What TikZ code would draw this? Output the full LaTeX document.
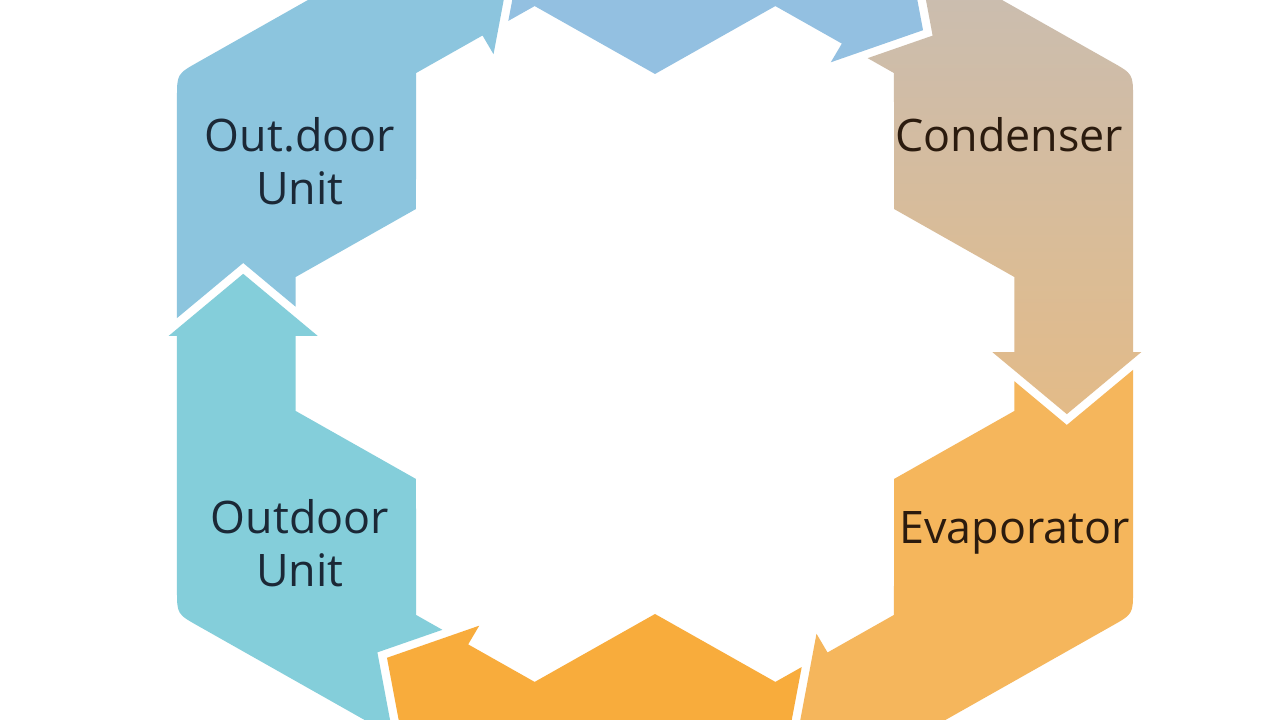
\documentclass[tikz,border=0pt]{standalone}
\usepackage{fontspec}
\setmainfont{Open Sans}
\usepackage{xcolor}
\usepackage{tikz}
\definecolor{outdoorblue}{HTML}{8CC5DE}
\definecolor{topblue}{HTML}{93C0E1}
\definecolor{condtop}{HTML}{C8BDB3}
\definecolor{condbot}{HTML}{E3BB88}
\definecolor{evaporange}{HTML}{F5B65C}
\definecolor{botorange}{HTML}{F8AC3C}
\definecolor{outdoorteal}{HTML}{84CEDA}
\definecolor{inkblue}{HTML}{1B2836}
\definecolor{inkbrown}{HTML}{2B1B0E}
\tikzset{
	partA/.style={fill=outdoorblue},
	partT/.style={fill=topblue},
	partC/.style={top color=condtop, bottom color=condbot},
	partE/.style={fill=evaporange},
	partB/.style={fill=botorange},
	partL/.style={fill=outdoorteal},
	unittext/.style={inner sep=0pt, align=center, font=\fontsize{12.75}{15}\selectfont}
}

\begin{document}
\begin{tikzpicture}
	\useasboundingbox (0,0) rectangle (12.8,7.2);
	\fill[white] (0,0) rectangle (12.8,7.2);
	\clip (0,0) rectangle (12.8,7.2);
	% six bent blocks round the hexagon, each with its arrow into the next one
	\begin{scope}[shift={(6.55,3.76)}, xscale=5.52, yscale=5.40]
		\foreach \a/\part in {150/partA, 90/partT, 30/partC, -30/partE, -90/partB, 210/partL}
			\path[\part] (\a+26.83:0.8674) -- (\a+2.28:0.9783) .. controls (\a:1) .. (\a-2.28:0.9783)
				-- (\a-30.99:0.8662) -- (\a-30.97:0.8812) -- (\a-39.88:0.7573) -- (\a-31.40:0.6112)
				-- (\a-31.32:0.6512) -- (\a-19.21:0.6627) -- (\a:0.5) -- (\a+19.21:0.6627)
				-- (\a+23.95:0.6547) -- (\a+18.63:0.7610) -- cycle;
	\end{scope}
	\node[unittext, text=inkblue] (outdoorTop) at (3.00,5.585) {Out.door\\Unit};
	\node[unittext, text=inkbrown] (condenser) at (10.09,5.85) {Condenser};
	\node[unittext, text=inkbrown] (evaporator) at (10.145,1.875) {Evaporator};
	\node[unittext, text=inkblue] (outdoorBot) at (3.00,1.765) {Outdoor\\Unit};
\end{tikzpicture}
\end{document}
